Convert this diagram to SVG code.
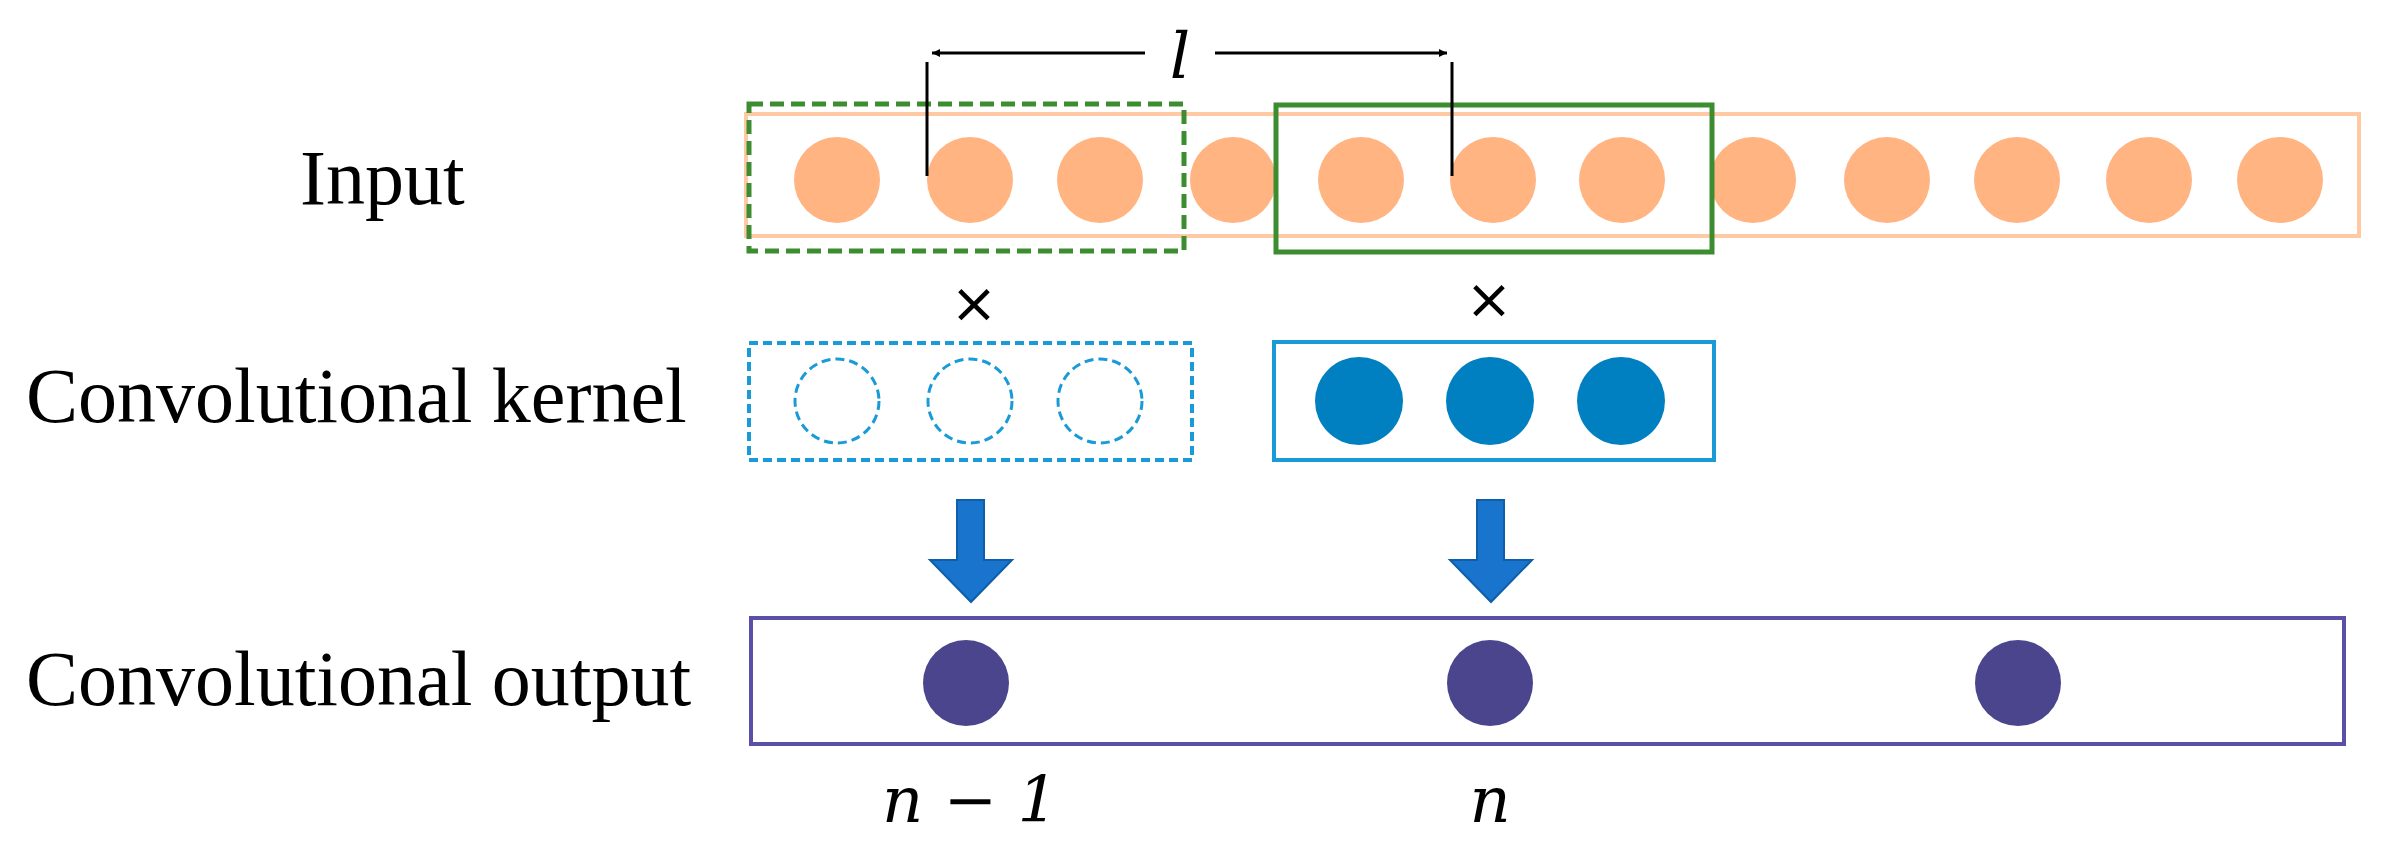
<svg xmlns="http://www.w3.org/2000/svg" width="2387" height="856" viewBox="0 0 2387 856">
<style>
.lbl{font-family:"Liberation Serif",serif;font-size:78px;fill:#000}
.math{font-family:"DejaVu Serif","Liberation Serif",serif;font-style:italic;font-size:64px;fill:#000}
.in{fill:#FFB482}
.k{fill:#0080C0}
.ke{fill:none;stroke:#1A9AD6;stroke-width:3;stroke-dasharray:9 5}
.o{fill:#4A458C}
</style>
<defs>
<marker id="ah" viewBox="0 0 10 10" refX="10" refY="5" markerWidth="8" markerHeight="8" orient="auto-start-reverse" markerUnits="userSpaceOnUse"><path d="M0,0L10,5L0,10z" fill="#000"/></marker>
</defs>
<rect width="2387" height="856" fill="#fff"/>
<text class="lbl" x="300" y="204">Input</text>
<text class="lbl" x="26" y="422">Convolutional kernel</text>
<text class="lbl" x="26" y="705">Convolutional output</text>
<g id="input">
<rect x="746" y="114" width="1613" height="122" fill="none" stroke="#FFC9A3" stroke-width="4"/>
<circle class="in" cx="837" cy="180" r="43"/><circle class="in" cx="970" cy="180" r="43"/><circle class="in" cx="1100" cy="180" r="43"/><circle class="in" cx="1233" cy="180" r="43"/><circle class="in" cx="1361" cy="180" r="43"/><circle class="in" cx="1493" cy="180" r="43"/><circle class="in" cx="1622" cy="180" r="43"/><circle class="in" cx="1753" cy="180" r="43"/><circle class="in" cx="1887" cy="180" r="43"/><circle class="in" cx="2017" cy="180" r="43"/><circle class="in" cx="2149" cy="180" r="43"/><circle class="in" cx="2280" cy="180" r="43"/>
<rect x="749" y="104" width="435" height="147" fill="none" stroke="#3C8C30" stroke-width="5" stroke-dasharray="14 7"/>
<rect x="1276" y="105" width="436" height="147" fill="none" stroke="#3C8C30" stroke-width="5"/>
</g>
<g id="kernel-prev">
<rect x="749" y="343" width="443" height="117" fill="none" stroke="#1A9AD6" stroke-width="4" stroke-dasharray="9 5"/>
<circle class="ke" cx="837" cy="401" r="42"/><circle class="ke" cx="970" cy="401" r="42"/><circle class="ke" cx="1100" cy="401" r="42"/>
</g>
<g id="kernel-cur">
<rect x="1274" y="342" width="440" height="118" fill="none" stroke="#1A9AD6" stroke-width="4"/>
<circle class="k" cx="1359" cy="401" r="44"/><circle class="k" cx="1490" cy="401" r="44"/><circle class="k" cx="1621" cy="401" r="44"/>
</g>
<g id="output">
<rect x="751" y="618" width="1593" height="126" fill="none" stroke="#5B50A8" stroke-width="4"/>
<circle class="o" cx="966" cy="683" r="43"/><circle class="o" cx="1490" cy="683" r="43"/><circle class="o" cx="2018" cy="683" r="43"/>
</g>
<g id="connectors">
<line x1="927" y1="62" x2="927" y2="176" stroke="#000" stroke-width="3"/>
<line x1="1452" y1="62" x2="1452" y2="176" stroke="#000" stroke-width="3"/>
<line x1="1145" y1="53" x2="932" y2="53" stroke="#000" stroke-width="3" marker-end="url(#ah)"/>
<line x1="1215" y1="53" x2="1447" y2="53" stroke="#000" stroke-width="3" marker-end="url(#ah)"/>
<path d="M957,500h27v60h28l-41,42l-41,-42h27z" fill="#1874CD" stroke="#0F5FA8" stroke-width="2"/>
<path d="M1477,500h27v60h28l-41,42l-41,-42h27z" fill="#1874CD" stroke="#0F5FA8" stroke-width="2"/>
</g>
<text class="math" x="1180" y="78" text-anchor="middle">l</text>
<text x="974" y="322" text-anchor="middle" font-family="DejaVu Sans,sans-serif" font-size="56">×</text>
<text x="1489" y="318" text-anchor="middle" font-family="DejaVu Sans,sans-serif" font-size="56">×</text>
<text class="math" x="970" y="822" text-anchor="middle">n − 1</text>
<text class="math" x="1490" y="822" text-anchor="middle">n</text>
</svg>
